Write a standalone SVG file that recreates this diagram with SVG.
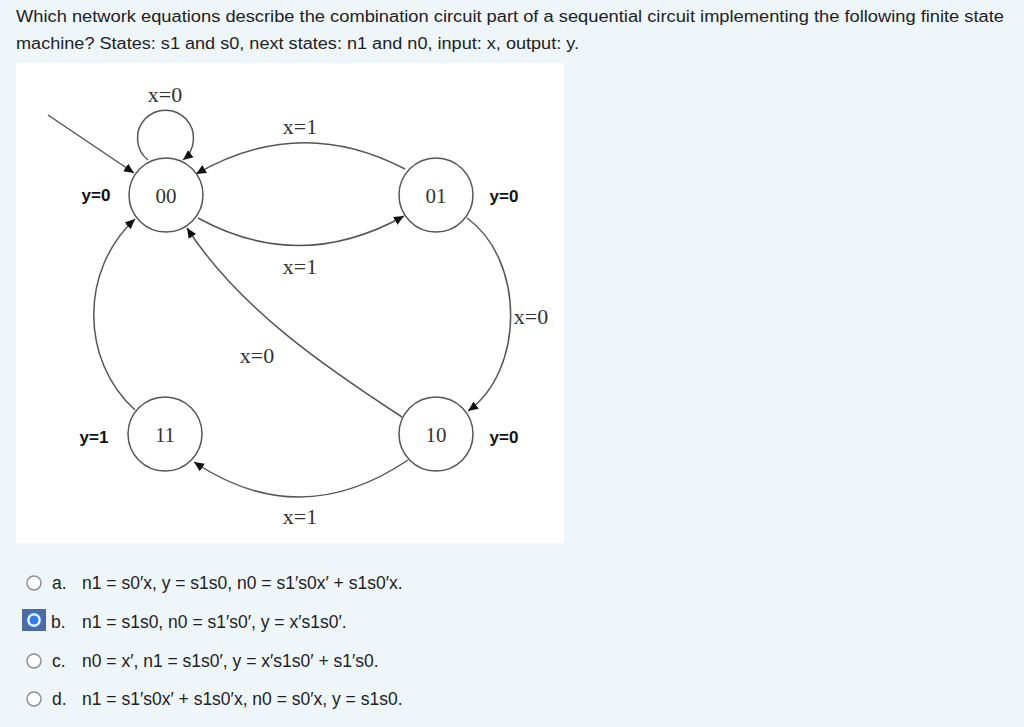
<svg xmlns="http://www.w3.org/2000/svg" width="1024" height="727" viewBox="0 0 1024 727">
<defs>
<marker id="arr" viewBox="0 0 10 10" refX="10" refY="5" markerWidth="10" markerHeight="10" markerUnits="userSpaceOnUse" orient="auto">
<path d="M0,0.5 L10,5 L0,9.5 z" fill="#111"/>
</marker>
</defs>
<style>
.q{font-family:"Liberation Sans",Arial,sans-serif;font-size:16px;fill:#1d2125}
.o{font-family:"Liberation Sans",Arial,sans-serif;font-size:17.5px;fill:#1d2125}
.st{fill:#fff;stroke:#555;stroke-width:1.5}
.sl{font-family:"Liberation Serif","Times New Roman",serif;font-size:21px;fill:#333;text-anchor:middle;dominant-baseline:central}
.el{font-family:"Liberation Serif","Times New Roman",serif;font-size:22px;fill:#333;text-anchor:middle;dominant-baseline:central}
.yl{font-family:"Liberation Sans",Arial,sans-serif;font-size:17px;font-weight:bold;fill:#111;text-anchor:middle;dominant-baseline:central}
.e{fill:none;stroke:#555;stroke-width:1.5}
.ea{fill:none;stroke:#555;stroke-width:1.5;marker-end:url(#arr)}
.radio{fill:#fff;stroke:#8a8f94;stroke-width:1.5}
</style>
<rect x="0" y="0" width="1024" height="727" fill="#eff6fa"/>
<text class="q" x="16" y="22" textLength="988" lengthAdjust="spacingAndGlyphs">Which network equations describe the combination circuit part of a sequential circuit implementing the following finite state</text>
<text class="q" x="16" y="49" textLength="563" lengthAdjust="spacingAndGlyphs">machine? States: s1 and s0, next states: n1 and n0, input: x, output: y.</text>
<rect x="16" y="63" width="548" height="480" fill="#fff"/>
<g id="connectors">
<path class="ea" d="M48,115 L134,173"/>
<path class="ea" d="M148,160 A28,28 0 1 1 183,160"/>
<path class="ea" d="M405,169 Q300,114 196,174"/>
<path class="ea" d="M198,218 Q300,274 404,216"/>
<path class="ea" d="M402,417 C330,370 240,310 187,228"/>
<path class="ea" d="M467,218 C525,260 525,370 468,411"/>
<path class="ea" d="M408,460 Q300,533 194,462"/>
<path class="ea" d="M135,410 C80,360 80,270 135,219"/>
<text class="el" x="165" y="94">x=0</text>
<text class="el" x="300" y="126">x=1</text>
<text class="el" x="300" y="266">x=1</text>
<text class="el" x="531" y="316">x=0</text>
<text class="el" x="257" y="355">x=0</text>
<text class="el" x="300" y="516">x=1</text>
</g>
<g id="s00"><circle class="st" cx="166" cy="195" r="37"/><text class="sl" x="166" y="196">00</text><text class="yl" x="96" y="195">y=0</text></g>
<g id="s01"><circle class="st" cx="436" cy="195" r="37"/><text class="sl" x="436" y="196">01</text><text class="yl" x="504" y="196">y=0</text></g>
<g id="s11"><circle class="st" cx="165" cy="434" r="37"/><text class="sl" x="165" y="435">11</text><text class="yl" x="94" y="437">y=1</text></g>
<g id="s10"><circle class="st" cx="436" cy="434" r="37"/><text class="sl" x="436" y="435">10</text><text class="yl" x="504" y="437">y=0</text></g>
<g id="options">
<circle class="radio" cx="34" cy="583" r="7"/>
<text class="o" x="52" y="589">a.</text>
<text class="o" x="82" y="589">n1 = s0′x, y = s1s0, n0 = s1′s0x′ + s1s0′x.</text>
<rect x="22" y="609" width="24" height="22" fill="#4f6b9b"/>
<circle cx="34" cy="620" r="7.5" fill="#fff" stroke="#2f7bf0" stroke-width="1.5"/>
<circle cx="34" cy="620" r="4.5" fill="#2f7bf0"/>
<text class="o" x="51" y="628">b.</text>
<text class="o" x="82" y="628">n1 = s1s0, n0 = s1′s0′, y = x′s1s0′.</text>
<circle class="radio" cx="34" cy="661" r="7"/>
<text class="o" x="52" y="667">c.</text>
<text class="o" x="82" y="667">n0 = x′, n1 = s1s0′, y = x′s1s0′ + s1′s0.</text>
<circle class="radio" cx="34" cy="699" r="7"/>
<text class="o" x="52" y="705">d.</text>
<text class="o" x="82" y="705">n1 = s1′s0x′ + s1s0′x, n0 = s0′x, y = s1s0.</text>
</g>
</svg>
